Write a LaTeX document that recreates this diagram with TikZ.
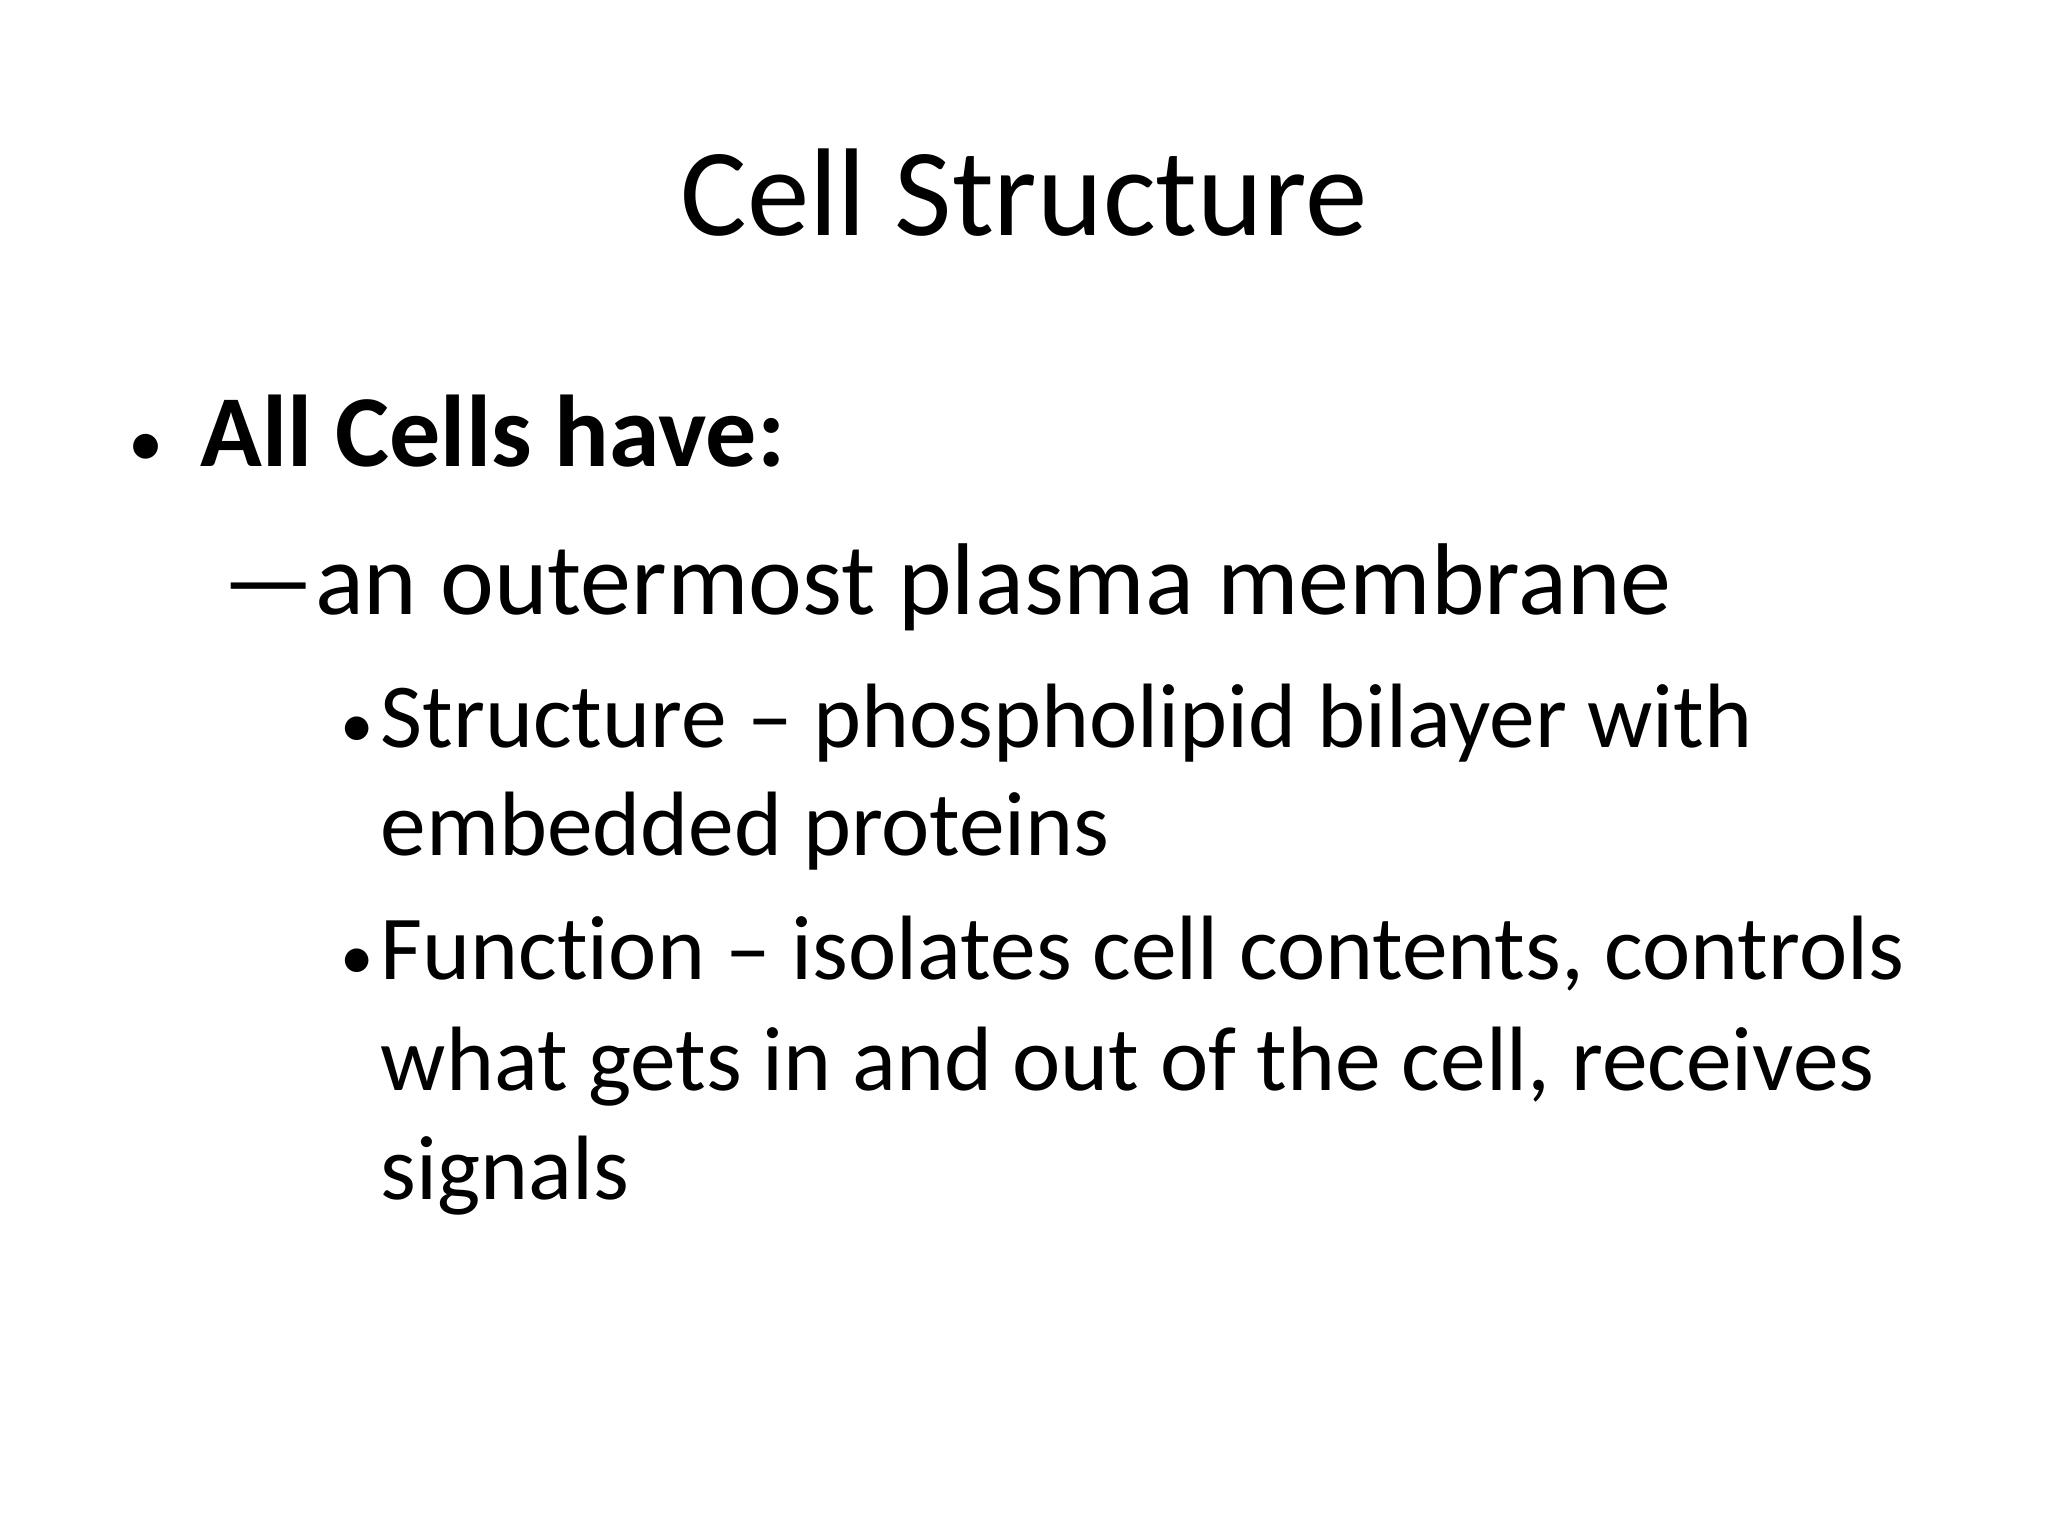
\documentclass[tikz,border=0pt]{standalone}
\usepackage{fontspec}
\setmainfont{Carlito}[Ligatures={NoCommon}]
\begin{document}
\begin{tikzpicture}[x=0.01cm,y=-0.01cm,
  t/.style={anchor=base west,inner sep=0pt,text=black}]
\useasboundingbox (0,0) rectangle (2048,1536);
\node[anchor=base,inner sep=0pt] (title) at (1024,235) {\fontsize{35.5}{43}\selectfont Cell Structure};
\node[t] (b1) at (128,466) {\fontsize{20}{24}\selectfont •};
\node[t] (l1) at (200,466) {\fontsize{29}{35}\selectfont\bfseries All Cells have:};
\node[t] (l2) at (222,614) {\fontsize{29}{35}\selectfont —an outermost plasma membrane};
\node[t] (b3) at (340,747) {\fontsize{19}{24}\selectfont •};
\node[t] (l3a) at (380,747) {\fontsize{26}{31}\selectfont Structure – phospholipid bilayer with};
\node[t] (l3b) at (380,855) {\fontsize{26}{31}\selectfont embedded proteins};
\node[t] (b4) at (340,979) {\fontsize{19}{24}\selectfont •};
\node[t] (l4a) at (380,979) {\fontsize{26}{31}\selectfont Function – isolates cell contents, controls};
\node[t] (l4b) at (380,1090) {\fontsize{26}{31}\selectfont what gets in and out of the cell, receives};
\node[t] (l4c) at (380,1199) {\fontsize{26}{31}\selectfont signals};
\end{tikzpicture}
\end{document}
